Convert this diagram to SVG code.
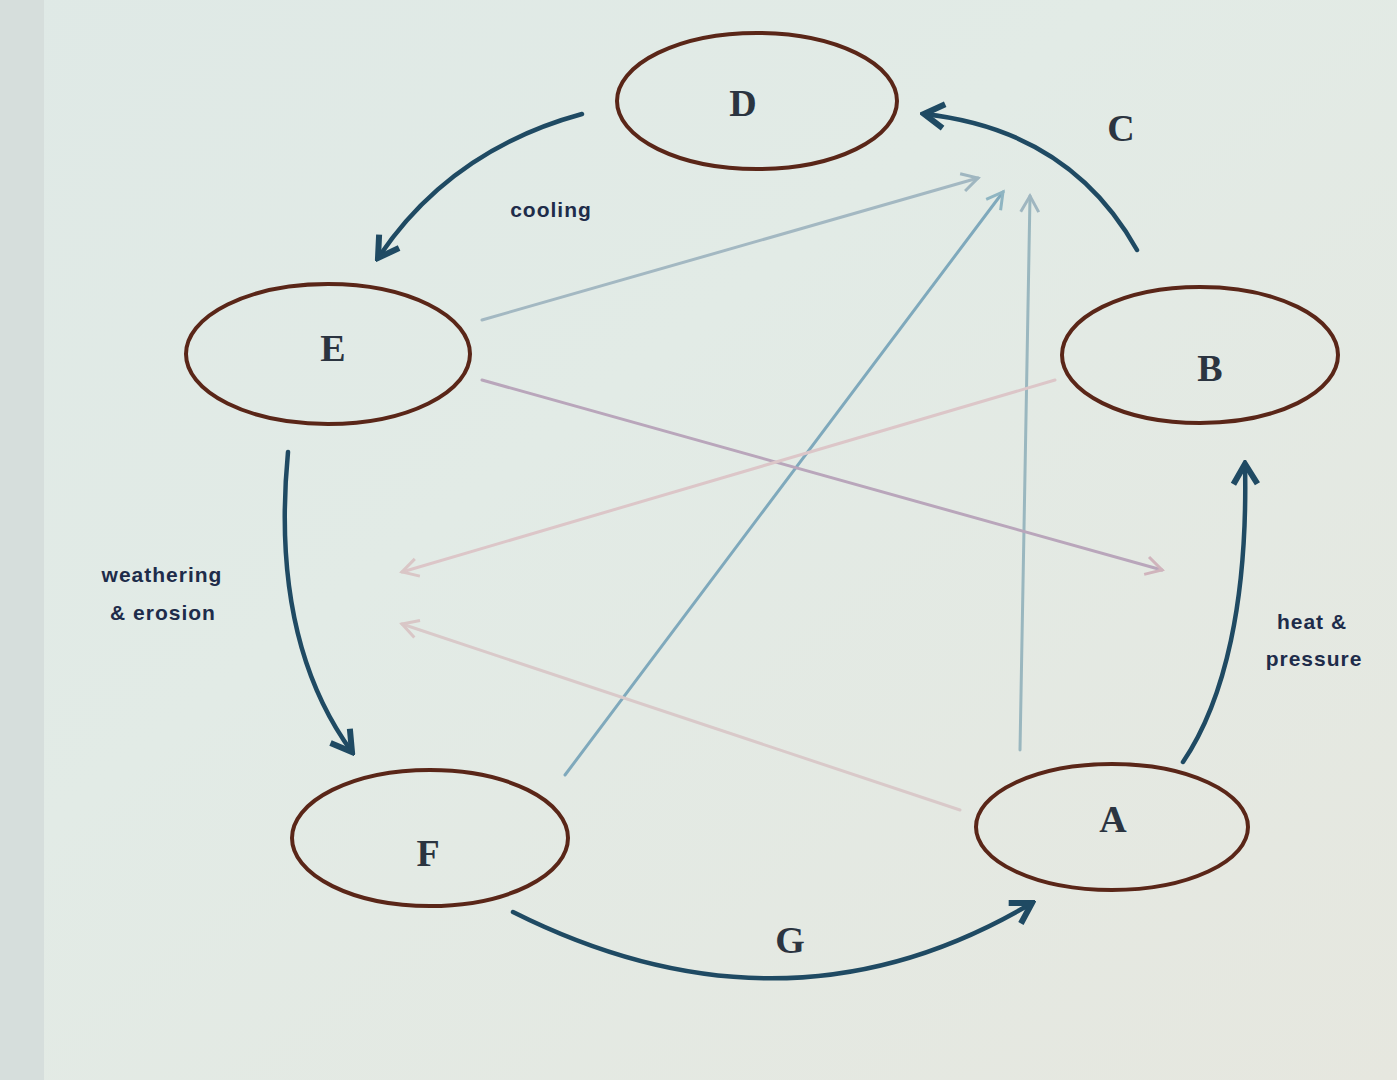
<svg xmlns="http://www.w3.org/2000/svg" width="1397" height="1080" viewBox="0 0 1397 1080">
<defs>
<style>
.node{fill:none;stroke:#5a2618;stroke-width:4}
.lbl{font-family:"Liberation Serif","DejaVu Serif",serif;font-size:38px;font-weight:bold;fill:#2b3440;text-anchor:middle}
.note{font-family:"Liberation Sans","DejaVu Sans",sans-serif;font-size:21px;font-weight:bold;fill:#1e2c4a;text-anchor:middle;letter-spacing:1px}
.main{fill:none;stroke:#1f4a63;stroke-width:4.5;stroke-linecap:round}
.thin{fill:none;stroke-width:3;stroke-linecap:round}
</style>
<linearGradient id="bg" x1="0" y1="0" x2="1" y2="1">
<stop offset="0" stop-color="#dfe9e6"/>
<stop offset="0.4" stop-color="#e2ebe6"/>
<stop offset="1" stop-color="#e6e7df"/>
</linearGradient>
<marker id="ah" viewBox="-26 -16 30 32" refX="0" refY="0" markerWidth="30" markerHeight="32" orient="auto" markerUnits="userSpaceOnUse">
<path d="M-20,-12 L0,0 L-20,12" fill="none" stroke="#1f4a63" stroke-width="6" stroke-linejoin="miter"/>
</marker>
<marker id="o1" viewBox="-20 -12 24 24" refX="0" refY="0" markerWidth="24" markerHeight="24" orient="auto" markerUnits="userSpaceOnUse">
<path d="M-16,-9 L0,0 L-16,9" fill="none" stroke="#9fb6c0" stroke-width="3"/>
</marker>
<marker id="o2" viewBox="-20 -12 24 24" refX="0" refY="0" markerWidth="24" markerHeight="24" orient="auto" markerUnits="userSpaceOnUse">
<path d="M-16,-9 L0,0 L-16,9" fill="none" stroke="#8fb5c2" stroke-width="3"/>
</marker>
<marker id="o3" viewBox="-20 -12 24 24" refX="0" refY="0" markerWidth="24" markerHeight="24" orient="auto" markerUnits="userSpaceOnUse">
<path d="M-16,-9 L0,0 L-16,9" fill="none" stroke="#d0b4bc" stroke-width="3"/>
</marker>
<marker id="o4" viewBox="-20 -12 24 24" refX="0" refY="0" markerWidth="24" markerHeight="24" orient="auto" markerUnits="userSpaceOnUse">
<path d="M-16,-9 L0,0 L-16,9" fill="none" stroke="#d9c6c6" stroke-width="3"/>
</marker>
</defs>
<rect x="0" y="0" width="1397" height="1080" fill="url(#bg)"/>
<rect x="0" y="0" width="44" height="1080" fill="#d6dedc"/>

<g id="connectors">
<path class="main" d="M582,114 Q450,150 378,258" marker-end="url(#ah)"/>
<path class="main" d="M1137,250 Q1070,130 924,114" marker-end="url(#ah)"/>
<path class="main" d="M288,452 Q270,640 352,752" marker-end="url(#ah)"/>
<path class="main" d="M513,912 Q786,1049 1032,903" marker-end="url(#ah)"/>
<path class="main" d="M1183,762 C1225,700 1248,600 1245,464" marker-end="url(#ah)"/>
<line class="thin" x1="482" y1="320" x2="978" y2="178" stroke="#a3b8c2" marker-end="url(#o1)"/>
<line class="thin" x1="565" y1="775" x2="1003" y2="192" stroke="#7fa9bc" marker-end="url(#o2)"/>
<line class="thin" x1="1020" y1="750" x2="1030" y2="196" stroke="#9ab7bf" marker-end="url(#o1)"/>
<line class="thin" x1="482" y1="380" x2="1162" y2="570" stroke="#b9a6bb" marker-end="url(#o3)"/>
<line class="thin" x1="1055" y1="380" x2="402" y2="572" stroke="#dcc6c8" marker-end="url(#o4)"/>
<line class="thin" x1="960" y1="810" x2="402" y2="624" stroke="#d9c9c9" marker-end="url(#o4)"/>
</g>

<g id="node-D"><ellipse class="node" cx="757" cy="101" rx="140" ry="68"/><text class="lbl" x="743" y="116">D</text></g>
<g id="node-E"><ellipse class="node" cx="328" cy="354" rx="142" ry="70"/><text class="lbl" x="333" y="361">E</text></g>
<g id="node-B"><ellipse class="node" cx="1200" cy="355" rx="138" ry="68"/><text class="lbl" x="1210" y="381">B</text></g>
<g id="node-F"><ellipse class="node" cx="430" cy="838" rx="138" ry="68"/><text class="lbl" x="428" y="866">F</text></g>
<g id="node-A"><ellipse class="node" cx="1112" cy="827" rx="136" ry="63"/><text class="lbl" x="1113" y="832">A</text></g>

<g id="labels">
<text class="lbl" x="1121" y="141">C</text>
<text class="lbl" x="790" y="953">G</text>
<text class="note" x="551" y="217">cooling</text>
<text class="note" x="162" y="582">weathering</text>
<text class="note" x="163" y="620">&amp; erosion</text>
<text class="note" x="1312" y="629">heat &amp;</text>
<text class="note" x="1314" y="666">pressure</text>
</g>
</svg>
